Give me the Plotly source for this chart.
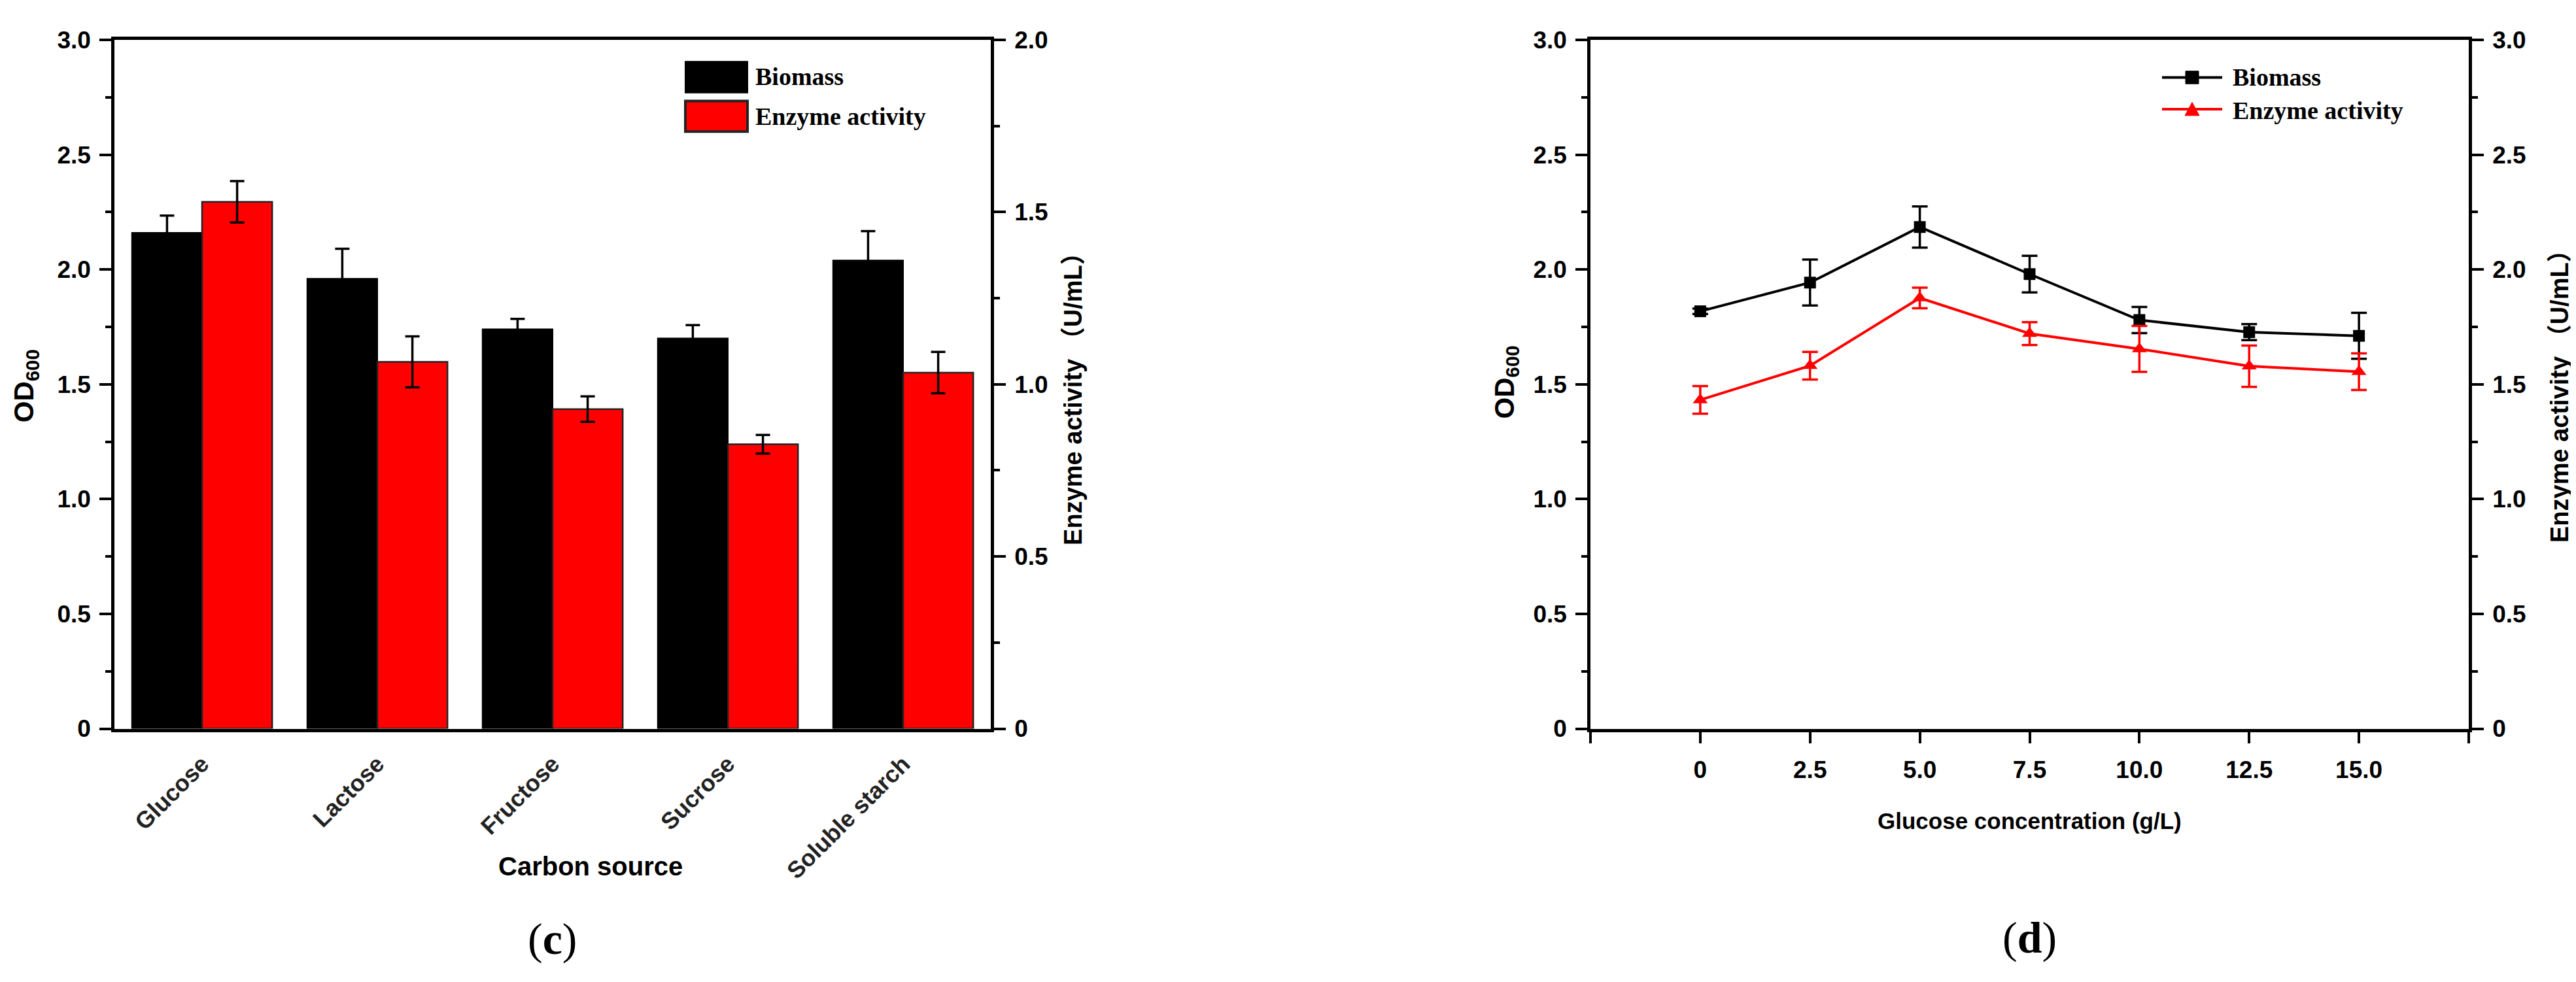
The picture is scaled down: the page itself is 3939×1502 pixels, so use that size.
import plotly.graph_objects as go

W, H = 3939, 1502

# panel (c): carbon source screening
carbon_sources = ["Glucose", "Lactose", "Fructose", "Sucrose", "Soluble starch"]
biomass_c = [2.16, 1.96, 1.74, 1.70, 2.04]
biomass_c_err = [0.075, 0.13, 0.045, 0.058, 0.127]
enzyme_c = [1.53, 1.065, 0.928, 0.826, 1.034]
enzyme_c_err = [0.06, 0.074, 0.037, 0.027, 0.06]

# panel (d): glucose concentration
glucose_conc = [0, 2.5, 5.0, 7.5, 10.0, 12.5, 15.0]
biomass_d = [1.818, 1.943, 2.185, 1.980, 1.780, 1.727, 1.711]
biomass_d_err = [0.012, 0.10, 0.09, 0.08, 0.057, 0.035, 0.10]
enzyme_d = [1.432, 1.581, 1.876, 1.721, 1.654, 1.579, 1.555]
enzyme_d_err = [0.06, 0.06, 0.045, 0.05, 0.10, 0.09, 0.08]

od_ticks = [0, 0.5, 1.0, 1.5, 2.0, 2.5, 3.0]
od_ticktext = ["0", "0.5", "1.0", "1.5", "2.0", "2.5", "3.0"]
od_minor = [0.25, 0.75, 1.25, 1.75, 2.25, 2.75]
act_ticks_c = [0, 0.5, 1.0, 1.5, 2.0]
act_ticktext_c = ["0", "0.5", "1.0", "1.5", "2.0"]
act_minor_c = [0.25, 0.75, 1.25, 1.75]
conc_ticks = [0, 2.5, 5.0, 7.5, 10.0, 12.5, 15.0]
conc_ticktext = ["0", "2.5", "5.0", "7.5", "10.0", "12.5", "15.0"]
conc_end_ticks = [-2.5, 17.5]

SANS = "Liberation Sans, Arial, Noto Sans CJK SC"
SERIF = "Liberation Serif, Times New Roman, serif"


def px(x):
    return x / W


def py(y):
    return 1 - y / H


fig = go.Figure()

# bars
fig.add_trace(go.Bar(
    x=carbon_sources, y=biomass_c, name="Biomass",
    xaxis="x", yaxis="y", width=0.4, offset=-0.4,
    marker=dict(color="black", line=dict(color="black", width=2)),
    error_y=dict(type="data", array=biomass_c_err, color="black", thickness=3.5, width=11),
    showlegend=False,
))
fig.add_trace(go.Bar(
    x=carbon_sources, y=enzyme_c, name="Enzyme activity",
    xaxis="x", yaxis="y2", width=0.4, offset=0,
    marker=dict(color="#ff0000", line=dict(color="#222222", width=2.5)),
    error_y=dict(type="data", array=enzyme_c_err, color="black", thickness=3.5, width=11),
    showlegend=False,
))

# lines
fig.add_trace(go.Scatter(
    x=glucose_conc, y=biomass_d, name="Biomass",
    xaxis="x2", yaxis="y3", mode="lines+markers",
    line=dict(color="black", width=4),
    marker=dict(symbol="square", size=18, color="black"),
    error_y=dict(type="data", array=biomass_d_err, color="black", thickness=3.5, width=12),
    showlegend=False,
))
fig.add_trace(go.Scatter(
    x=glucose_conc, y=enzyme_d, name="Enzyme activity",
    xaxis="x2", yaxis="y4", mode="lines+markers",
    line=dict(color="#ff0000", width=4),
    marker=dict(symbol="triangle-up", size=20, color="#ff0000"),
    error_y=dict(type="data", array=enzyme_d_err, color="#ff0000", thickness=3.5, width=12),
    showlegend=False,
))

tick_font = dict(family=SANS, size=37, color="black", weight="bold")
ydom = [py(1117), py(34)]


def yax(**kw):
    d = dict(
        domain=ydom, showline=True, linewidth=4.5, linecolor="black",
        ticks="outside", ticklen=18, tickwidth=4, tickcolor="black",
        showgrid=False, zeroline=False, tickfont=tick_font,
        ticklabelstandoff=6,
    )
    d.update(kw)
    return d


fig.update_layout(
    width=W, height=H,
    margin=dict(l=0, r=0, t=0, b=0),
    paper_bgcolor="white", plot_bgcolor="white",
    bargap=0.2,
    xaxis=dict(
        domain=[px(167), px(1507)], anchor="y", type="category",
        range=[-0.5, 4.5], showline=True, linewidth=4.5, linecolor="black",
        mirror=True, ticks="", showgrid=False, zeroline=False,
        tickangle=-45, tickfont=dict(family=SANS, size=36, color="#222222", weight="bold"),
        ticklabelstandoff=14,
    ),
    yaxis=yax(
        anchor="x", range=[0, 3], tickmode="array",
        tickvals=od_ticks, ticktext=od_ticktext,
        minor=dict(tickmode="array", tickvals=od_minor, ticks="outside",
                   ticklen=9, tickwidth=4, tickcolor="black"),
    ),
    yaxis2=yax(
        anchor="x", overlaying="y", side="right", range=[0, 2],
        tickmode="array", tickvals=act_ticks_c, ticktext=act_ticktext_c,
        minor=dict(tickmode="array", tickvals=act_minor_c, ticks="outside",
                   ticklen=9, tickwidth=4, tickcolor="black"),
    ),
    xaxis2=dict(
        domain=[px(2424), px(3767)], anchor="y3", range=[-2.5, 17.5],
        tickmode="array", tickvals=conc_ticks, ticktext=conc_ticktext,
        showline=True, linewidth=4.5, linecolor="black", mirror=True,
        ticks="outside", ticklen=18, tickwidth=4, tickcolor="black",
        minor=dict(tickmode="array", tickvals=conc_end_ticks, ticks="outside",
                   ticklen=18, tickwidth=4, tickcolor="black"),
        showgrid=False, zeroline=False, tickfont=tick_font,
        ticklabelstandoff=8,
    ),
    yaxis3=yax(
        anchor="x2", range=[0, 3], tickmode="array",
        tickvals=od_ticks, ticktext=od_ticktext,
        minor=dict(tickmode="array", tickvals=od_minor, ticks="outside",
                   ticklen=9, tickwidth=4, tickcolor="black"),
    ),
    yaxis4=yax(
        anchor="x2", overlaying="y3", side="right", range=[0, 3],
        tickmode="array", tickvals=od_ticks, ticktext=od_ticktext,
        minor=dict(tickmode="array", tickvals=od_minor, ticks="outside",
                   ticklen=9, tickwidth=4, tickcolor="black"),
    ),
)

title_font = dict(family=SANS, size=40, color="black", weight="bold")
leg_font = dict(family=SERIF, size=38, color="black", weight="bold")

annotations = [
    # axis titles, panel (c)
    dict(x=px(31), y=py(578), text="OD<sub>600</sub>", textangle=-90,
         font=dict(family=SANS, size=42, color="black", weight="bold")),
    dict(x=px(1633), y=py(589), text="Enzyme activity （U/mL）", textangle=-90,
         font=dict(family=SANS, size=38, color="black", weight="bold")),
    dict(x=px(895), y=py(1333), text="Carbon source", font=title_font),
    # axis titles, panel (d)
    dict(x=px(2295), y=py(572), text="OD<sub>600</sub>", textangle=-90,
         font=dict(family=SANS, size=42, color="black", weight="bold")),
    dict(x=px(3906), y=py(585), text="Enzyme activity （U/mL）", textangle=-90,
         font=dict(family=SANS, size=38, color="black", weight="bold")),
    dict(x=px(3095), y=py(1262), text="Glucose concentration (g/L)",
         font=dict(family=SANS, size=35, color="black", weight="bold")),
    # panel labels
    dict(x=px(837), y=py(1447), text="(<b>c</b>)", font=dict(family=SERIF, size=68, color="black")),
    dict(x=px(3095), y=py(1445), text="(<b>d</b>)", font=dict(family=SERIF, size=68, color="black")),
    # legend texts
    dict(x=px(1145), y=py(92), text="Biomass", xanchor="left", font=leg_font),
    dict(x=px(1145), y=py(154), text="Enzyme activity", xanchor="left", font=leg_font),
    dict(x=px(3404), y=py(93), text="Biomass", xanchor="left", font=leg_font),
    dict(x=px(3404), y=py(145), text="Enzyme activity", xanchor="left", font=leg_font),
]
for a in annotations:
    a.setdefault("xref", "paper")
    a.setdefault("yref", "paper")
    a.setdefault("showarrow", False)
    a.setdefault("xanchor", "center")
    a.setdefault("yanchor", "middle")
fig.update_layout(annotations=annotations)

# hand drawn legend keys
shapes = [
    dict(type="rect", x0=px(1040), x1=px(1135), y0=py(68), y1=py(117),
         fillcolor="black", line=dict(color="black", width=2)),
    dict(type="rect", x0=px(1040), x1=px(1135), y0=py(130), y1=py(178),
         fillcolor="#ff0000", line=dict(color="#222222", width=4)),
    dict(type="line", x0=px(3298), x1=px(3390), y0=py(93), y1=py(93),
         line=dict(color="black", width=4)),
    dict(type="rect", x0=px(3334), x1=px(3354), y0=py(83), y1=py(103),
         fillcolor="black", line=dict(color="black", width=1)),
    dict(type="line", x0=px(3298), x1=px(3390), y0=py(143), y1=py(143),
         line=dict(color="#ff0000", width=4)),
    dict(type="path",
         path="M {a},{b} L {c},{b} L {d},{e} Z".format(
             a=px(3333), b=py(153), c=px(3355), d=px(3344), e=py(132)),
         fillcolor="#ff0000", line=dict(color="#ff0000", width=1)),
]
for s in shapes:
    s["xref"] = "paper"
    s["yref"] = "paper"
fig.update_layout(shapes=shapes)

fig.write_html("out.html")
